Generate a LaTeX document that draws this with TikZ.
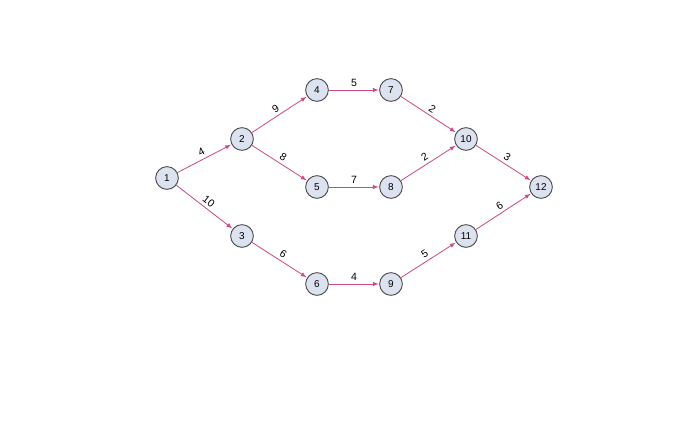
\documentclass[tikz,border=0pt]{standalone}
\usepackage{xcolor}
\usepackage{fontspec}
\setmainfont{Liberation Sans}
\usepackage{tikz}

\definecolor{eventfill}{HTML}{DDE2F0}
\definecolor{eventdraw}{HTML}{505050}
\definecolor{actline}{HTML}{CC4A88}

\tikzset{
	event/.style={circle, draw=eventdraw, fill=eventfill, line width=0.8pt, minimum size=0.68cm, inner sep=0pt, font=\fontsize{8.5}{10}\selectfont},
	activity/.style={draw=actline, -latex, line width=0.7pt, shorten >=0.5pt},
	dur/.style={sloped, above, inner sep=2.5pt, font=\fontsize{9}{10}\selectfont}
}

\begin{document}
\begin{tikzpicture}
	\useasboundingbox[fill=white] (0,0) rectangle (21.00,12.81);
	\node[event] (n1) at (5.01,7.47) {1};
	\node[event] (n2) at (7.26,8.64) {2};
	\node[event] (n3) at (7.26,5.73) {3};
	\node[event] (n4) at (9.51,10.11) {4};
	\node[event] (n5) at (9.51,7.20) {5};
	\node[event] (n6) at (9.51,4.29) {6};
	\node[event] (n7) at (11.73,10.11) {7};
	\node[event] (n8) at (11.73,7.20) {8};
	\node[event] (n9) at (11.73,4.29) {9};
	\node[event] (n10) at (13.98,8.64) {10};
	\node[event] (n11) at (13.98,5.73) {11};
	\node[event] (n12) at (16.23,7.20) {12};
	\draw[activity] (n1) -- node[dur] {4} (n2);
	\draw[activity] (n1) -- node[dur] {10} (n3);
	\draw[activity] (n2) -- node[dur] {9} (n4);
	\draw[activity] (n2) -- node[dur] {8} (n5);
	\draw[activity] (n3) -- node[dur] {6} (n6);
	\draw[activity] (n4) -- node[dur] {5} (n7);
	\draw[activity] (n5) -- node[dur] {7} (n8);
	\draw[activity] (n6) -- node[dur] {4} (n9);
	\draw[activity] (n7) -- node[dur] {2} (n10);
	\draw[activity] (n8) -- node[dur] {2} (n10);
	\draw[activity] (n9) -- node[dur] {5} (n11);
	\draw[activity] (n10) -- node[dur] {3} (n12);
	\draw[activity] (n11) -- node[dur] {6} (n12);
\end{tikzpicture}
\end{document}
